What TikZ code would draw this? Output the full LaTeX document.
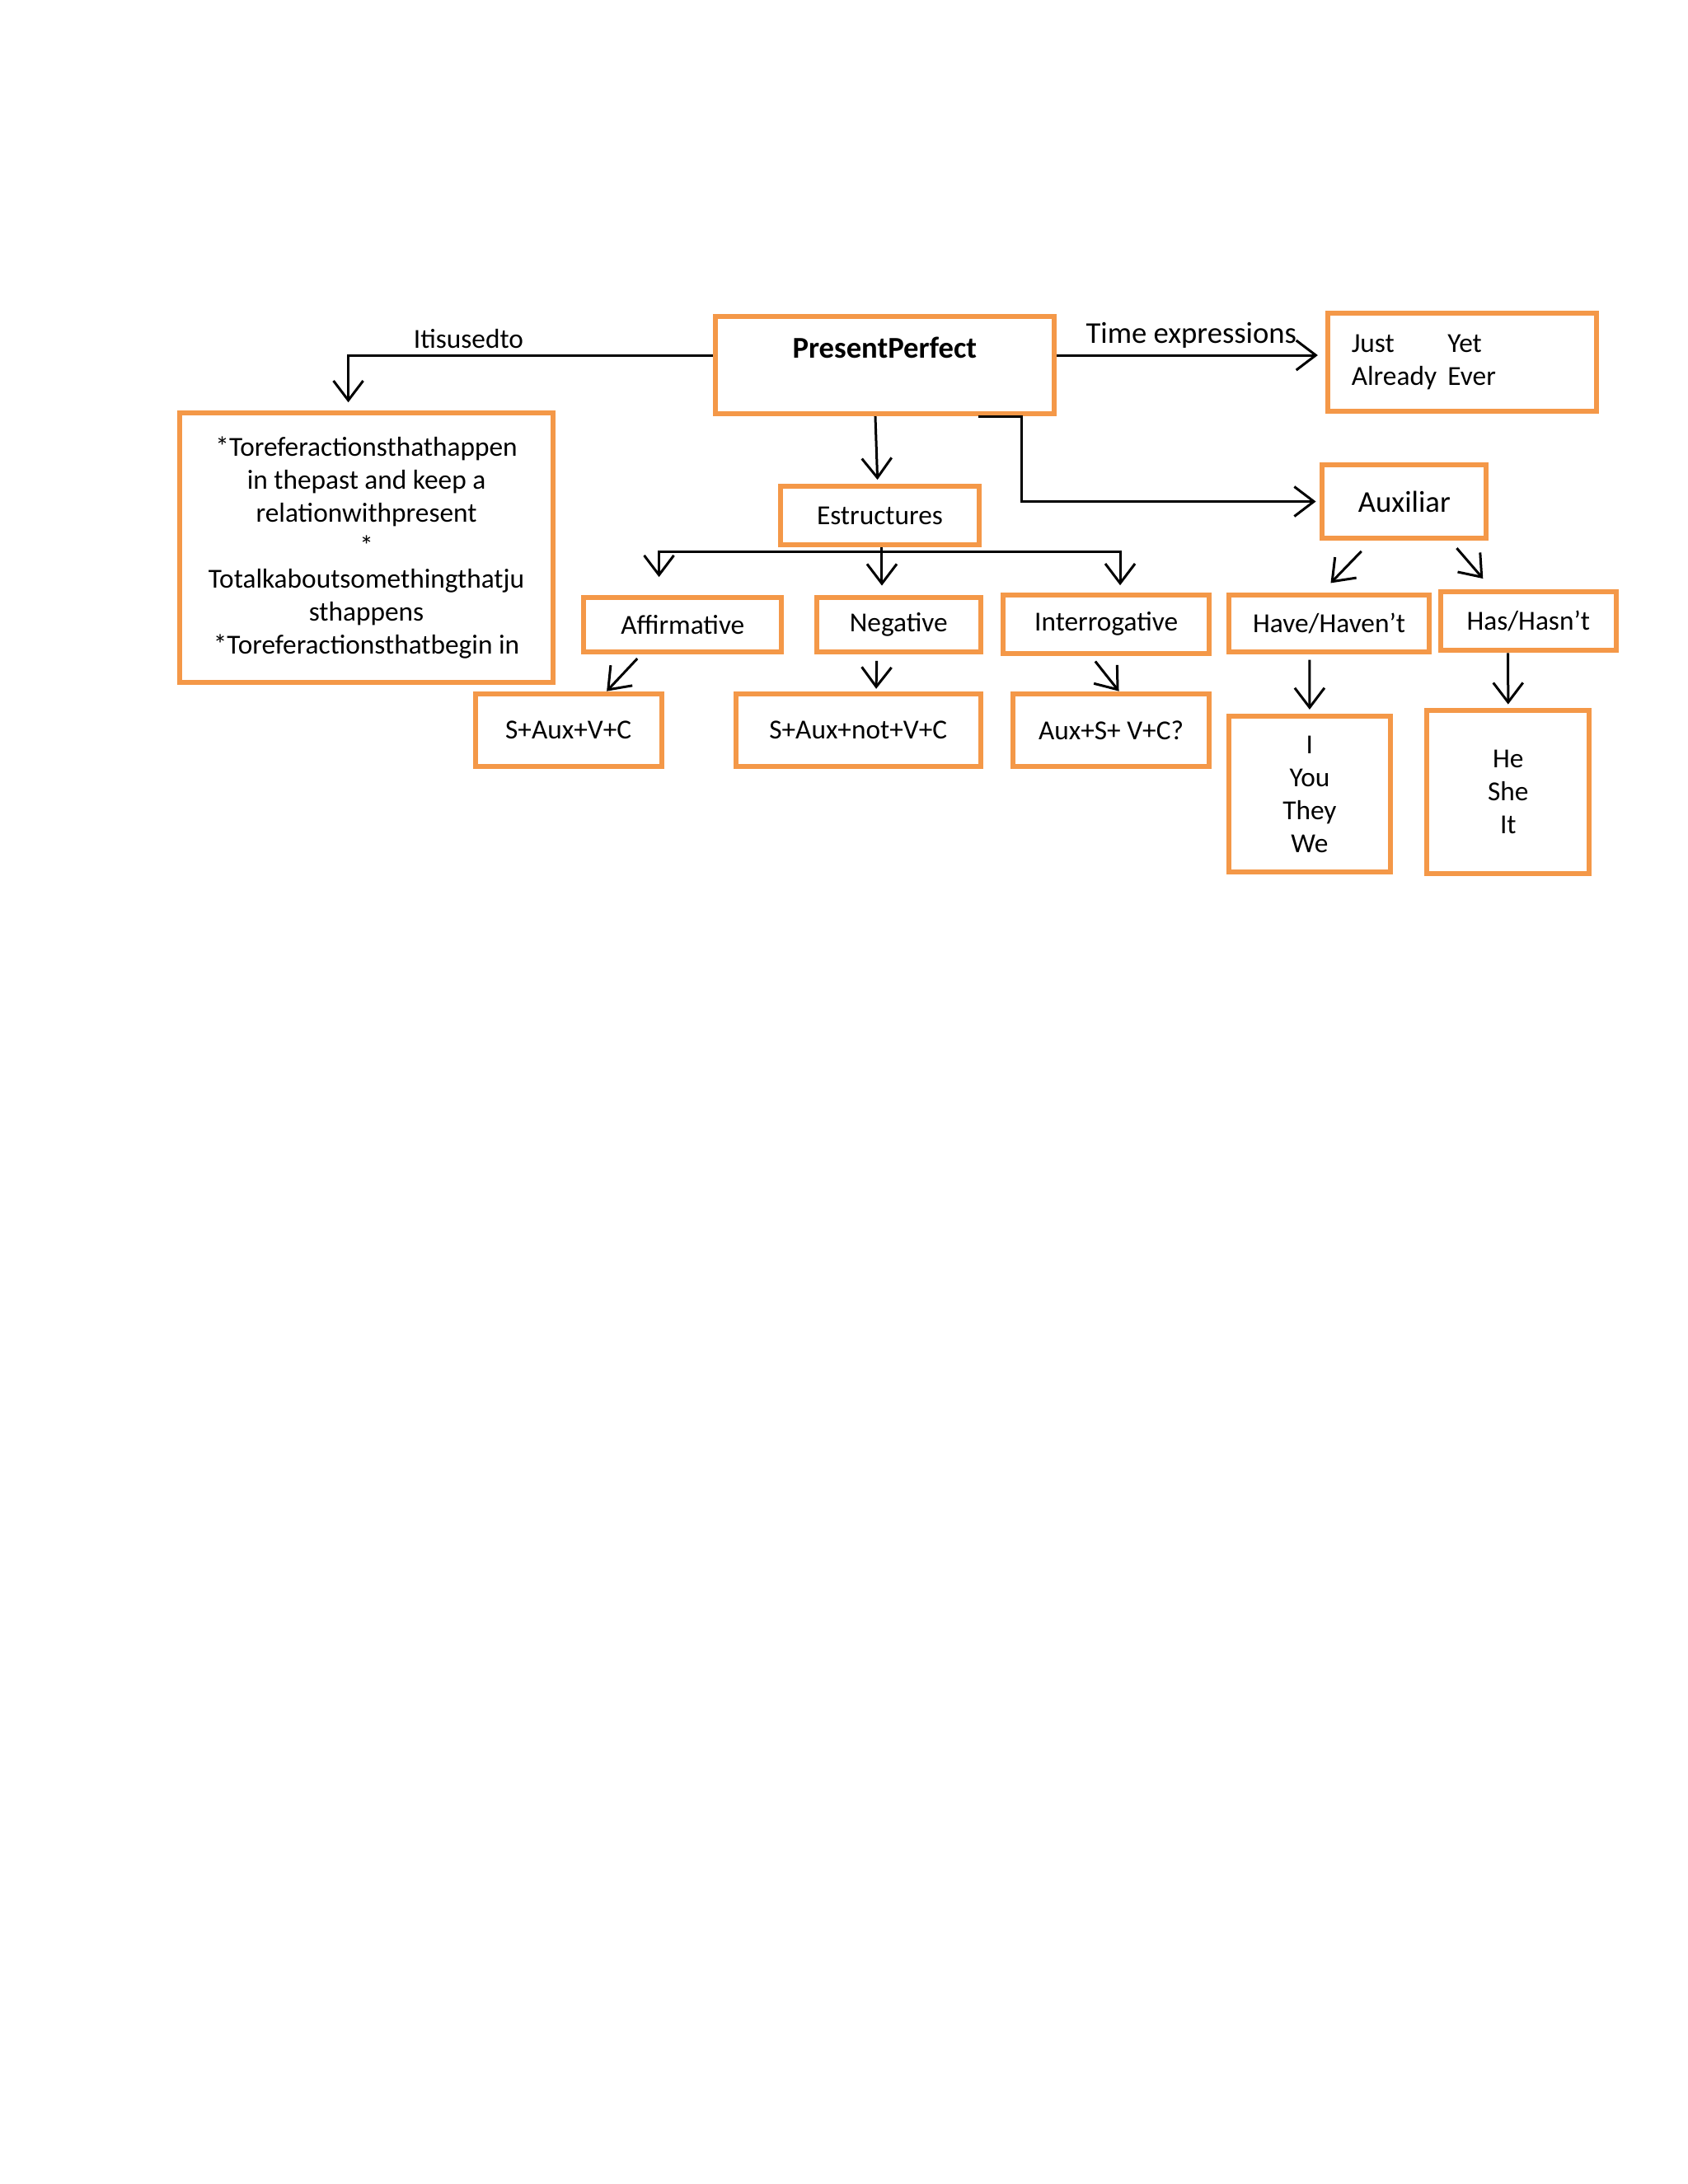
\documentclass[tikz,border=0pt]{standalone}
\usepackage{fontspec}
\setmainfont{Carlito}
\usetikzlibrary{arrows.meta}
\definecolor{boxorange}{RGB}{244,152,72}
\tikzset{
	box/.style={draw=boxorange, line width=1.8pt, align=center, inner sep=0pt, font=\fontsize{10}{12}\selectfont},
	arr/.style={line width=0.9pt, -{Straight Barb[length=2.5mm,width=3.8mm]}},
	link/.style={line width=0.9pt}
}

\begin{document}
\begin{tikzpicture}[x=0.01782cm, y=-0.01782cm]
			%%%%% START %%%%%
			
			\useasboundingbox (0cm, 0cm) rectangle (21.59cm, -27.94cm);
			
			\node[box, minimum width=4.34cm, minimum height=1.25cm, text height=7pt, text depth=12pt, font=\fontsize{11}{13}\selectfont\bfseries] (pp) at (635, 262) {PresentPerfect};
			\node[box, minimum width=3.43cm, minimum height=1.25cm, text width=2.83cm, inner xsep=0.3cm, align=left] (time) at (1049.5, 260) {\begin{tabular}{@{}l@{\hspace{4pt}}l@{}}Just&Yet\\Already&Ever\end{tabular}};
			\node[box, minimum width=4.78cm, minimum height=3.45cm] (use) at (263, 393) {*Toreferactionsthathappen\\in thepast and keep a\\relationwithpresent\\*\\Totalkaboutsomethingthatju\\sthappens\\*Toreferactionsthatbegin in};
			
			\node[box, minimum width=2.55cm, minimum height=0.75cm] (estr) at (631.5, 370) {Estructures};
			\node[box, minimum width=2.53cm, minimum height=0.70cm] (aff) at (490, 448.5) {Affirmative};
			\node[box, minimum width=2.10cm, minimum height=0.70cm] (neg) at (645, 448.5) {Negative};
			\node[box, minimum width=2.64cm, minimum height=0.75cm] (int) at (794, 448) {Interrogative};
			\node[box, minimum width=2.38cm, minimum height=0.93cm] (sav) at (408, 524) {S+Aux+V+C};
			\node[box, minimum width=3.13cm, minimum height=0.93cm] (san) at (616, 524) {S+Aux+not+V+C};
			\node[box, minimum width=2.51cm, minimum height=0.93cm] (asv) at (797.5, 524) {Aux+S+ V+C?};
			
			\node[box, minimum width=2.10cm, minimum height=0.93cm, font=\fontsize{11}{13}\selectfont] (aux) at (1008, 360) {Auxiliar};
			\node[box, minimum width=2.57cm, minimum height=0.73cm] (have) at (954, 447.5) {Have/Haven’t};
			\node[box, minimum width=2.24cm, minimum height=0.75cm] (has) at (1097, 446) {Has/Hasn’t};
			\node[box, minimum width=2.07cm, minimum height=2.00cm] (plural) at (940, 570) {I\\You\\They\\We};
			\node[box, minimum width=2.08cm, minimum height=2.08cm] (single) at (1082.5, 568.5) {He\\She\\It};
			
			\draw[arr, shorten >=1mm] (pp.west |- 0,255) -| (use.north -| 250,0) node[pos=0.335, above, inner sep=2pt, font=\fontsize{10}{12}\selectfont] {Itisusedto};
			\draw[arr, shorten >=0.1cm] (pp.east |- 0,255) -- (time.west |- 0,255) node[midway, above, inner sep=2pt, font=\fontsize{11}{13}\selectfont] {Time expressions};
			\draw[arr] ([xshift=-0.12cm]pp.south) -- ([xshift=-0.03cm, yshift=0.05cm]estr.north);
			
			\coordinate (fork) at (633, 396);
			\draw[link] (estr.south -| fork) -- (fork);
			\draw[arr, shorten >=0.23cm] (fork) -| (aff.north -| 473,0);
			\draw[arr, shorten >=0.12cm] (fork) -- (neg.north -| fork);
			\draw[arr, shorten >=0.09cm] (fork) -| (int.north -| 804,0);
			
			\draw[arr] ([xshift=-0.58cm, yshift=-0.05cm]aff.south) -- ([xshift=0.49cm]sav.north);
			\draw[arr] ([xshift=-0.28cm, yshift=-0.08cm]neg.south) -- ([xshift=0.23cm, yshift=0.03cm]san.north);
			\draw[arr] ([xshift=-0.14cm, yshift=-0.07cm]int.south) -- ([xshift=0.1cm]asv.north);
			
			\draw[arr, shorten >=0.05cm] ([xshift=1.2cm]pp.south) -- ++(31, 0) |- (aux.west);
			\draw[arr] ([xshift=-0.55cm, yshift=-0.14cm]aux.south) -- ([xshift=0.02cm, yshift=0.12cm]have.north);
			\draw[arr] ([xshift=0.67cm, yshift=-0.1cm]aux.south) -- ([xshift=-0.58cm, yshift=0.14cm]has.north);
			\draw[arr] ([xshift=-0.25cm, yshift=-0.07cm]have.south) -- ([yshift=0.05cm]plural.north);
			\draw[arr] ([xshift=-0.26cm]has.south) -- ([yshift=0.05cm]single.north);
			
			%%%%% END %%%%%
\end{tikzpicture}
\end{document}
